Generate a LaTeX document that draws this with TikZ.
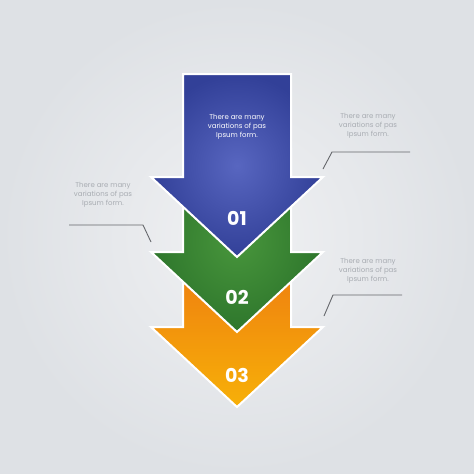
\documentclass[tikz,border=0pt]{standalone}
\usepackage{fontspec}
\setmainfont{Poppins}
\definecolor{bgin}{RGB}{240,241,243}
\definecolor{bgout}{RGB}{222,225,229}
\definecolor{blueout}{RGB}{50,64,152}
\definecolor{bluein}{RGB}{88,102,192}
\definecolor{greenout}{RGB}{46,118,44}
\definecolor{greenin}{RGB}{72,150,60}
\definecolor{orangetop}{RGB}{236,112,18}
\definecolor{orangebot}{RGB}{247,176,8}
\definecolor{notegray}{RGB}{168,172,178}
\definecolor{linegray}{RGB}{100,102,106}
\begin{document}
\begin{tikzpicture}[x=1pt,y=-1pt,
  arrowbox/.style={draw=white,line width=2pt,line join=miter},
  num/.style={text=white,font=\bfseries\fontsize{19}{19}\selectfont},
  note/.style={align=center,font=\fontsize{7}{9}\selectfont},
  callout/.style={draw=linegray,line width=0.9pt}]
\useasboundingbox (0,0) rectangle (474,474);
\shade[inner color=bgin,outer color=bgout] (0,0) rectangle (474,474);
% orange arrow
\shade[arrowbox,top color=orangetop,bottom color=orangebot]
  (183,224) -- (291,224) -- (291,327) -- (323,327) -- (237,407) -- (151,327) -- (183,327) -- cycle;
% green arrow
\shade[arrowbox,inner color=greenin,outer color=greenout]
  (183,149) -- (291,149) -- (291,252) -- (323,252) -- (237,332) -- (151,252) -- (183,252) -- cycle;
% blue arrow
\shade[arrowbox,inner color=bluein,outer color=blueout]
  (183,74) -- (291,74) -- (291,177) -- (323,177) -- (237,257) -- (151,177) -- (183,177) -- cycle;
\node[num] (n1) at (237,218) {01};
\node[num] (n2) at (237,297) {02};
\node[num] (n3) at (237,375) {03};
\node[note,text=white] (t0) at (237,127) {There are many\\variations of pas\\Ipsum form.};
\node[note,text=notegray] (t1) at (368,126) {There are many\\variations of pas\\Ipsum form.};
\node[note,text=notegray] (t2) at (103,195) {There are many\\variations of pas\\Ipsum form.};
\node[note,text=notegray] (t3) at (368,271) {There are many\\variations of pas\\Ipsum form.};
\coordinate (a1) at (323,169); \coordinate (b1) at (332,152); \coordinate (c1) at (410,152);
\coordinate (a2) at (151,242); \coordinate (b2) at (143,225); \coordinate (c2) at (69,225);
\coordinate (a3) at (324,316); \coordinate (b3) at (333,295); \coordinate (c3) at (402,295);
\draw[callout] (a1) -- (b1) -- (c1);
\draw[callout] (a2) -- (b2) -- (c2);
\draw[callout] (a3) -- (b3) -- (c3);
\end{tikzpicture}
\end{document}
